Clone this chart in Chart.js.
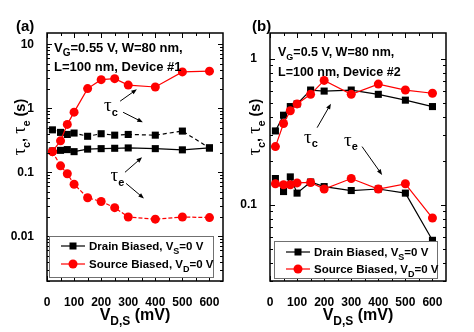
<!DOCTYPE html>
<html>
<head>
<meta charset="utf-8">
<script src="https://cdn.jsdelivr.net/npm/chart.js@4.4.1/dist/chart.umd.min.js"></script>
<style>
  html, body { margin: 0; padding: 0; background: #fff; }
  #wrap { position: relative; width: 474px; height: 332px; }
  canvas { position: absolute; top: 0; }
  #panelA { left: 0; }
  #panelB { left: 237px; }
</style>
</head>
<body>
<div id="wrap">
  <canvas id="panelA" width="237" height="332"></canvas>
  <canvas id="panelB" width="237" height="332"></canvas>
</div>
<script>
// Device #1 (VG = 0.55 V)
const vA = [20, 50, 75, 100, 150, 200, 250, 300, 400, 500, 600];
const drainTauCA = [0.46, 0.42, 0.39, 0.41, 0.365, 0.40, 0.38, 0.39, 0.38, 0.44, 0.24];
const drainTauEA = [0.215, 0.22, 0.226, 0.21, 0.23, 0.234, 0.237, 0.24, 0.234, 0.224, 0.24];
const sourceTauCA = [0.21, 0.31, 0.56, 0.87, 2.03, 2.8, 2.9, 2.3, 2.15, 3.7, 3.8];
const sourceTauEA = [0.21, 0.126, 0.095, 0.065, 0.040, 0.035, 0.028, 0.020, 0.0185, 0.020, 0.0196];

// Device #2 (VG = 0.5 V)
const vB = [20, 50, 75, 100, 150, 200, 300, 400, 500, 600];
const drainTauCB = [0.32, 0.41, 0.47, 0.49, 0.61, 0.60, 0.61, 0.57, 0.52, 0.47];
const sourceTauCB = [0.25, 0.36, 0.44, 0.49, 0.57, 0.71, 0.57, 0.67, 0.61, 0.58];
const drainTauEB = [0.151, 0.123, 0.155, 0.12, 0.143, 0.133, 0.125, 0.128, 0.12, 0.057];
const sourceTauEB = [0.139, 0.137, 0.137, 0.141, 0.142, 0.128, 0.151, 0.128, 0.139, 0.081];

const xTicks = [0, 100, 200, 300, 400, 500, 600];
const yTicksA = [0.01, 0.1, 1, 10];
const yTicksB = [0.1, 1];

const SANS = "'Liberation Sans', Arial, sans-serif";
const SERIF = "'Liberation Serif', 'Times New Roman', serif";
const BLACK = '#000000';
const RED = '#ff0000';

function pts(xs, ys) {
  return xs.map((v, i) => ({ x: v, y: ys[i] }));
}

// text runs: [text, kind] with kind n = bold, s = subscript, t = greek tau
function runs(parts, size) {
  return parts.map(([t, k]) => {
    if (k === 's') return { t, font: `bold ${Math.round(size * 0.75)}px ${SANS}`, dy: size * 0.32 };
    if (k === 't') return { t, font: `${Math.round(size * 1.25)}px ${SERIF}`, dy: 0 };
    return { t, font: `bold ${size}px ${SANS}`, dy: 0 };
  });
}

function drawRich(ctx, parts, x, y, size, align) {
  const segs = runs(parts, size);
  let total = 0;
  segs.forEach(s => { ctx.font = s.font; s.w = ctx.measureText(s.t).width; total += s.w; });
  let cx = align === 'center' ? x - total / 2 : x;
  ctx.textAlign = 'left';
  ctx.textBaseline = 'alphabetic';
  segs.forEach(s => { ctx.font = s.font; ctx.fillText(s.t, cx, y + s.dy); cx += s.w; });
}

function arrow(ctx, x1, y1, x2, y2) {
  const a = Math.atan2(y2 - y1, x2 - x1), h = 6;
  ctx.beginPath();
  ctx.moveTo(x1, y1);
  ctx.lineTo(x2 - Math.cos(a) * h * 0.7, y2 - Math.sin(a) * h * 0.7);
  ctx.stroke();
  ctx.beginPath();
  ctx.moveTo(x2, y2);
  ctx.lineTo(x2 - h * Math.cos(a - 0.38), y2 - h * Math.sin(a - 0.38));
  ctx.lineTo(x2 - h * Math.cos(a + 0.38), y2 - h * Math.sin(a + 0.38));
  ctx.closePath();
  ctx.fill();
}

const legendItems = [
  { parts: [['Drain Biased, V', 'n'], ['S', 's'], ['=0 V', 'n']], color: BLACK, shape: 'rect' },
  { parts: [['Source Biased, V', 'n'], ['D', 's'], ['=0 V', 'n']], color: RED, shape: 'circle' }
];

// frame, inward ticks, titles, notes and legend for one panel
function panelPlugin(cfg) {
  return {
    id: 'panelDecor',
    afterDraw(chart) {
      const { ctx, chartArea: ca, scales: { x, y } } = chart;
      ctx.save();
      ctx.strokeStyle = BLACK;
      ctx.fillStyle = BLACK;

      ctx.lineWidth = 1;
      ctx.beginPath();
      for (let v = 0; v < x.max; v += 50) {
        const px = Math.round(x.getPixelForValue(v)) + 0.5;
        const len = v % 100 === 0 ? 5 : 3;
        ctx.moveTo(px, ca.bottom); ctx.lineTo(px, ca.bottom - len);
        ctx.moveTo(px, ca.top); ctx.lineTo(px, ca.top + len);
      }
      const e0 = Math.floor(Math.log10(y.min)), e1 = Math.ceil(Math.log10(y.max));
      for (let e = e0; e <= e1; e++) {
        for (let m = 1; m <= 9; m++) {
          const v = m * Math.pow(10, e);
          if (v < y.min || v > y.max) continue;
          const py = Math.round(y.getPixelForValue(v)) + 0.5;
          const len = m === 1 ? 5 : 3;
          ctx.moveTo(ca.left, py); ctx.lineTo(ca.left + len, py);
          ctx.moveTo(ca.right, py); ctx.lineTo(ca.right - len, py);
        }
      }
      ctx.stroke();

      ctx.lineWidth = 1.5;
      ctx.strokeRect(ca.left, ca.top, ca.right - ca.left, ca.bottom - ca.top);

      // panel tag
      ctx.font = `bold 15px ${SANS}`;
      ctx.textAlign = 'left';
      ctx.textBaseline = 'alphabetic';
      ctx.fillText(cfg.tag, cfg.tagX, 31);

      // axis titles
      drawRich(ctx, [['V', 'n'], ['D,S', 's'], [' (mV)', 'n']], (ca.left + ca.right) / 2, 320, 16, 'center');
      ctx.save();
      ctx.translate(cfg.yTitleX, 127);
      ctx.rotate(-Math.PI / 2);
      drawRich(ctx, [['τ', 't'], ['c', 's'], [', ', 'n'], ['τ', 't'], ['e', 's'], [' (s)', 'n']], 0, 0, 14.5, 'center');
      ctx.restore();

      // device conditions
      cfg.header.forEach(line => drawRich(ctx, line.parts, ca.left + cfg.headerDx, ca.top + line.dy, cfg.headerSize, 'left'));

      // tau labels and arrows
      cfg.labels.forEach(l => {
        drawRich(ctx, l.parts, x.getPixelForValue(l.at[0]), y.getPixelForValue(l.at[1]), 15, 'center');
      });
      ctx.lineWidth = 1;
      cfg.arrows.forEach(a => {
        arrow(ctx, x.getPixelForValue(a[0]), y.getPixelForValue(a[1]),
              x.getPixelForValue(a[2]), y.getPixelForValue(a[3]));
      });

      // legend
      const lg = cfg.legend;
      const bx = ca.left + lg.left, by = ca.bottom - lg.top;
      const bw = ca.right - lg.right - bx, bh = ca.bottom - lg.bottom - by;
      ctx.fillStyle = '#fff';
      ctx.fillRect(bx, by, bw, bh);
      ctx.strokeStyle = '#707070';
      ctx.lineWidth = 1;
      ctx.strokeRect(Math.round(bx) + 0.5, Math.round(by) + 0.5, Math.round(bw), Math.round(bh));
      legendItems.forEach((it, i) => {
        const cy = by + lg.rows[i];
        const x0 = bx + 12, x1 = bx + 36, xm = (x0 + x1) / 2;
        ctx.strokeStyle = it.color;
        ctx.fillStyle = it.color;
        ctx.lineWidth = 1.2;
        ctx.beginPath(); ctx.moveTo(x0, cy); ctx.lineTo(x1, cy); ctx.stroke();
        if (it.shape === 'rect') {
          ctx.fillRect(xm - 3.5, cy - 3.5, 7, 7);
        } else {
          ctx.beginPath(); ctx.arc(xm, cy, 4.5, 0, Math.PI * 2); ctx.fill();
        }
        ctx.fillStyle = BLACK;
        drawRich(ctx, it.parts, x1 + 4, cy + 4, 11.5, 'left');
      });
      ctx.restore();
    }
  };
}

function series(data, color, shape, dash) {
  return {
    data,
    borderColor: color,
    backgroundColor: color,
    borderWidth: 1.2,
    borderDash: dash || [],
    pointStyle: shape,
    pointRadius: shape === 'rect' ? 5 : 4.5,
    pointBorderWidth: 0,
    pointBackgroundColor: color,
    order: color === RED ? 1 : 2
  };
}

function makeChart(id, datasets, yMin, yMax, yTicks, yWidth, padRight, cfg) {
  const tickFont = { family: SANS, size: 12, weight: 'bold' };
  return new Chart(document.getElementById(id), {
    type: 'line',
    data: { datasets },
    options: {
      responsive: false,
      animation: false,
      layout: { padding: { left: 0, top: 33, right: padRight, bottom: 0 } },
      plugins: { legend: { display: false }, tooltip: { enabled: false } },
      scales: {
        x: {
          type: 'linear', min: 0, max: 650,
          afterBuildTicks: s => { s.ticks = xTicks.map(v => ({ value: v })); },
          afterFit: s => { s.height = 51; },
          grid: { display: false }, border: { display: false },
          ticks: { color: BLACK, font: tickFont, padding: 6, maxRotation: 0, autoSkip: false }
        },
        y: {
          type: 'logarithmic', min: yMin, max: yMax,
          afterBuildTicks: s => { s.ticks = yTicks.map(v => ({ value: v })); },
          afterFit: s => { s.width = yWidth; },
          grid: { display: false }, border: { display: false },
          ticks: { color: BLACK, font: tickFont, padding: 5, autoSkip: false, callback: v => String(v) }
        }
      }
    },
    plugins: [panelPlugin(cfg)]
  });
}

makeChart('panelA', [
  series(pts(vA, drainTauCA), BLACK, 'rect', [4, 3]),
  series(pts(vA, drainTauEA), BLACK, 'rect'),
  series(pts(vA, sourceTauCA), RED, 'circle'),
  series(pts(vA, sourceTauEA), RED, 'circle', [4, 2])
], 0.002, 15, yTicksA, 47, 14, {
  tag: '(a)', tagX: 16, yTitleX: 25, headerDx: 7, headerSize: 13,
  header: [
    { parts: [['V', 'n'], ['G', 's'], ['=0.55 V, W=80 nm,', 'n']], dy: 19 },
    { parts: [['L=100 nm, Device #1', 'n']], dy: 38 }
  ],
  labels: [
    { parts: [['τ', 't'], ['c', 's']], at: [236, 0.9] },
    { parts: [['τ', 't'], ['e', 's']], at: [260, 0.072] }
  ],
  arrows: [
    [270, 1.29, 332, 1.98],
    [281, 0.866, 354, 0.604],
    [288, 0.1, 351, 0.171],
    [292, 0.067, 358, 0.039]
  ],
  legend: { left: 2, right: 10, top: 45, bottom: 4, rows: [10, 28] }
});

makeChart('panelB', [
  series(pts(vB, drainTauCB), BLACK, 'rect'),
  series(pts(vB, drainTauEB), BLACK, 'rect'),
  series(pts(vB, sourceTauCB), RED, 'circle'),
  series(pts(vB, sourceTauEB), RED, 'circle')
], 0.03, 1.5, yTicksB, 33, 28, {
  tag: '(b)', tagX: 15, yTitleX: 23, headerDx: 8, headerSize: 12.5,
  header: [
    { parts: [['V', 'n'], ['G', 's'], ['=0.5 V, W=80 nm,', 'n']], dy: 23 },
    { parts: [['L=100 nm, Device #2', 'n']], dy: 43 }
  ],
  labels: [
    { parts: [['τ', 't'], ['c', 's']], at: [151, 0.266] },
    { parts: [['τ', 't'], ['e', 's']], at: [299, 0.254] }
  ],
  arrows: [
    [174, 0.337, 225, 0.492],
    [340, 0.25, 414, 0.16]
  ],
  legend: { left: 4, right: 9, top: 40, bottom: 3, rows: [11, 28] }
});
</script>
</body>
</html>
